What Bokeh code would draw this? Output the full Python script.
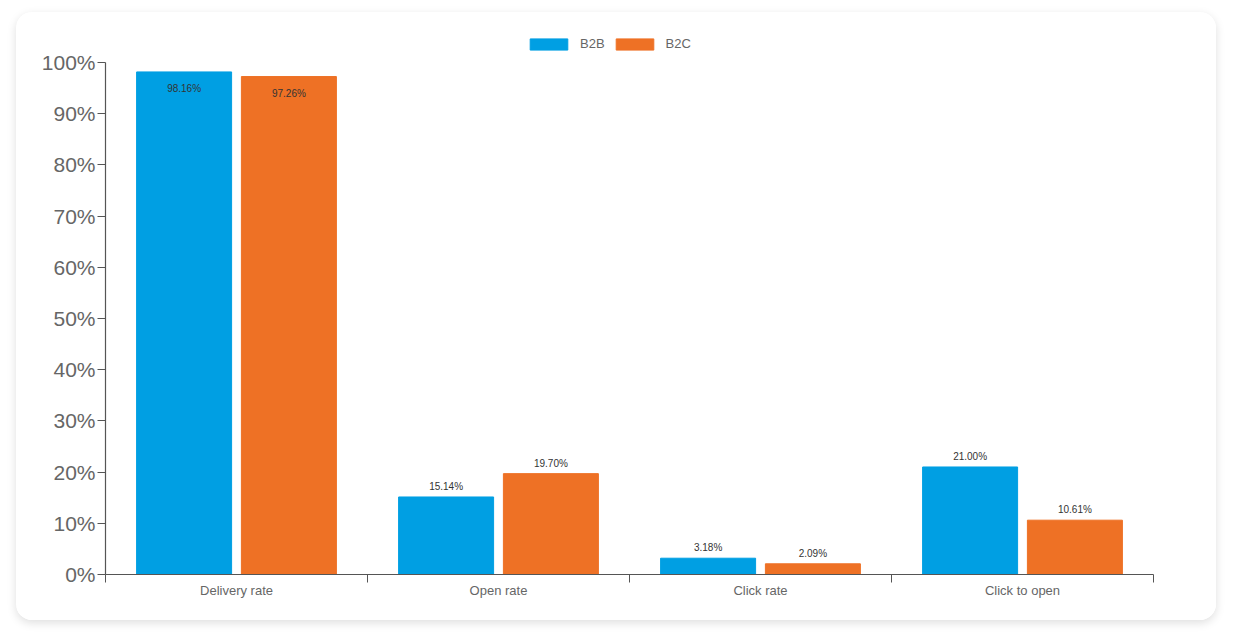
from bokeh.plotting import figure
from bokeh.models import (ColumnDataSource, Range1d, FixedTicker, Legend, LegendItem,
                          LabelSet)
from bokeh.embed import file_html
from bokeh.resources import INLINE
from bokeh.core.properties import value

categories = ["Delivery rate", "Open rate", "Click rate", "Click to open"]
b2b = [98.16, 15.14, 3.18, 21.00]
b2c = [97.26, 19.70, 2.09, 10.61]
series_names = ["B2B", "B2C"]
y_ticks = [0, 10, 20, 30, 40, 50, 60, 70, 80, 90, 100]

BLUE = "#009FE3"
ORANGE = "#EE7125"
FONT = "Liberation Sans"

idx = list(range(len(categories)))
centers = [i + 0.5 for i in idx]
off = 0.2
bw = 0.3626

def lbl_offset(v):
    return -22 if v > 90 else 5

src_b = ColumnDataSource(dict(
    x=[c - off for c in centers], top=b2b,
    txt=["%.2f%%" % v for v in b2b], yo=[lbl_offset(v) for v in b2b]))
src_c = ColumnDataSource(dict(
    x=[c + off for c in centers], top=b2c,
    txt=["%.2f%%" % v for v in b2c], yo=[lbl_offset(v) for v in b2c]))

p = figure(width=1200, height=608, output_backend="svg", toolbar_location=None,
           x_range=Range1d(0, len(categories)), y_range=Range1d(0, 105.86),
           min_border_left=89, min_border_right=63, min_border_top=20,
           min_border_bottom=46)
p.margin = (12, 0, 0, 16)
p.styles = {"border-radius": "16px", "overflow": "hidden",
            "box-shadow": "0 3px 10px rgba(0,0,0,0.13)"}
p.outline_line_color = None
p.grid.visible = False
p.background_fill_color = "white"
p.border_fill_color = "white"

rb = p.vbar(x="x", top="top", width=bw, source=src_b, fill_color=BLUE,
            line_color=BLUE, line_width=1)
rc = p.vbar(x="x", top="top", width=bw, source=src_c, fill_color=ORANGE,
            line_color=ORANGE, line_width=1)

for s in (src_b, src_c):
    p.add_layout(LabelSet(x="x", y="top", text="txt", y_offset="yo", source=s,
                          text_align="center", text_baseline="bottom",
                          text_font=value(FONT), text_font_size="10px",
                          text_color="#333333"))

# y axis
ya = p.yaxis[0]
ya.ticker = FixedTicker(ticks=y_ticks)
ya.bounds = (0, 100)
ya.major_label_overrides = {t: "%d%%" % t for t in y_ticks}
ya.major_label_text_font = FONT
ya.major_label_text_font_size = "21px"
ya.major_label_text_color = "#666666"
ya.major_tick_in = 0
ya.major_tick_out = 8
ya.minor_tick_in = 0
ya.minor_tick_out = 0
ya.major_label_standoff = 2
ya.axis_line_color = "#555555"
ya.major_tick_line_color = "#555555"
ya.axis_line_width = 1.2

# x axis
xa = p.xaxis[0]
xa.ticker = FixedTicker(ticks=centers, minor_ticks=[float(i) for i in range(len(categories) + 1)])
xa.major_label_overrides = {c: n for c, n in zip(centers, categories)}
xa.major_label_text_font = FONT
xa.major_label_text_font_size = "13px"
xa.major_label_text_color = "#666666"
xa.major_tick_in = 0
xa.major_tick_out = 0
xa.minor_tick_in = 0
xa.minor_tick_out = 8
xa.minor_tick_line_color = "#555555"
xa.major_label_standoff = 0
xa.axis_line_color = "#555555"
xa.axis_line_width = 1.2

legend = Legend(items=[LegendItem(label=series_names[0], renderers=[rb]),
                       LegendItem(label=series_names[1], renderers=[rc])],
                orientation="horizontal", location=(420, 523),
                glyph_width=47, glyph_height=14, label_text_font=FONT,
                label_text_font_size="13px", label_text_color="#666666",
                label_standoff=8, spacing=6, padding=0, margin=0,
                border_line_color=None, background_fill_alpha=0)
p.add_layout(legend, "center")

open("out.html", "w").write(file_html(p, INLINE))
